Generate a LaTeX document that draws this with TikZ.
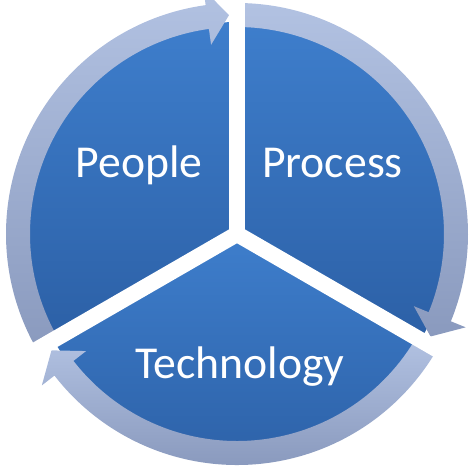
\documentclass[tikz,border=0pt]{standalone}
\usepackage{fontspec}
\setmainfont{Carlito}
\usetikzlibrary{positioning}
\definecolor{sectortop}{RGB}{62,126,204}
\definecolor{sectorbottom}{RGB}{44,96,166}
\definecolor{ringtop}{RGB}{178,194,226}
\definecolor{ringbottom}{RGB}{138,154,190}

\begin{document}
\begin{tikzpicture}[sector/.style={top color=sectortop, bottom color=sectorbottom}, ring/.style={top color=ringtop, bottom color=ringbottom}, gap/.style={draw=white, line width=0.32cm}, label/.style={text=white, inner sep=0pt, font=\fontsize{26}{31}\selectfont, text height=0.64cm, text depth=0.2cm}]
    \useasboundingbox (-4.74,-4.66) rectangle (4.74,4.68);
    \clip (-4.74,-4.66) rectangle (4.74,4.68);

    %Sectors
    \shade[sector] (0,0) -- (90:4.24) arc[start angle=90, end angle=210, radius=4.24] -- cycle;
    \shade[sector] (0,0) -- (-30:4.24) arc[start angle=-30, end angle=90, radius=4.24] -- cycle;
    \shade[sector] (0,0) -- (210:4.24) arc[start angle=210, end angle=330, radius=4.24] -- cycle;

    %Arrows
    \shade[ring] (210:4.62) arc[start angle=210, end angle=97.8, radius=4.62] -- (97.8:4.94) -- (92.1:4.38) -- (97.8:3.82) -- (97.8:4.14) arc[start angle=97.8, end angle=210, radius=4.14] -- cycle;
    \shade[ring] (90:4.62) arc[start angle=90, end angle=-22.2, radius=4.62] -- (-22.2:4.94) -- (-27.9:4.38) -- (-22.2:3.82) -- (-22.2:4.14) arc[start angle=-22.2, end angle=90, radius=4.14] -- cycle;
    \shade[ring] (-30:4.62) arc[start angle=-30, end angle=-142.2, radius=4.62] -- (-142.2:4.94) -- (-147.9:4.38) -- (-142.2:3.82) -- (-142.2:4.14) arc[start angle=-142.2, end angle=-30, radius=4.14] -- cycle;

    %Gaps
    \draw[gap] (0,0) -- (90:5.2);
    \draw[gap] (0,0) -- (210:5.2);
    \draw[gap] (0,0) -- (330:5.2);

    %Nodes
    \node[label](people) at (-1.96,1.36){People};
    \node[label](process)[right=1.18cm of people]{Process};
    \node[label](technology) at (0.06,-2.66){Technology};
\end{tikzpicture}
\end{document}
